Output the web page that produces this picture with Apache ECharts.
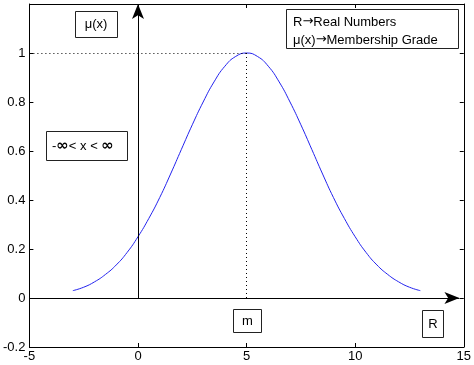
<!DOCTYPE html>
<html><head><meta charset="utf-8">
<script src="https://cdn.jsdelivr.net/npm/echarts@6/dist/echarts.min.js"></script>
<style>html,body{margin:0;padding:0;background:#fff}#c{width:474px;height:365px}</style>
</head><body><div id="c"></div>
<script>
// Membership curve
const xValues = [-3,-2.5,-2,-1.5,-1,-0.5,0,0.5,1,1.5,2,2.5,3,3.5,4,4.5,5,5.5,6,6.5,7,7.5,8,8.5,9,9.5,10,10.5,11,11.5,12,12.5,13];
const muValues = [0.03,0.044,0.066,0.096,0.135,0.186,0.25,0.325,0.41,0.506,0.607,0.707,0.80,0.882,0.946,0.986,1.0,0.986,0.946,0.882,0.80,0.707,0.607,0.506,0.41,0.325,0.25,0.186,0.135,0.096,0.066,0.044,0.03];
const xTicks = [-5,0,5,10,15];
const yTicks = [-0.2,0,0.2,0.4,0.6,0.8,1];
const centerM = 5;
const peak = 1;
const axisArrowEnd = 14.8;
const yTop = 1.2;

const font = '"Liberation Sans", Arial, sans-serif';
const chart = echarts.init(document.getElementById('c'));
const tickStyle = {show:true, inside:true, length:4, lineStyle:{color:'#000'}};
const lineStyle = {show:true, onZero:false, lineStyle:{color:'#000', width:1}};

function fmtY(v){
  const r = Math.round(v*10)/10;
  if (Math.abs(r - yTop) < 1e-6) return '';
  return String(r);
}
const arrowRich = {a:{fontFamily:'"DejaVu Sans", sans-serif', fontSize:13, fill:'#000'}};
const infRich = {i:{fontFamily:'"DejaVu Sans", sans-serif', fontSize:15, fontWeight:'bold'}};

chart.setOption({
  animation:false,
  grid:{left:27, right:7, top:4, bottom:18, containLabel:false},
  xAxis:[
    {type:'value', min:xTicks[0], max:xTicks[xTicks.length-1], interval:5, position:'bottom',
     axisLine:lineStyle, axisTick:tickStyle, splitLine:{show:false},
     axisLabel:{color:'#000', fontSize:13, fontFamily:font, margin:3}},
    {type:'value', min:xTicks[0], max:xTicks[xTicks.length-1], interval:5, position:'top',
     axisLine:lineStyle, axisTick:tickStyle, splitLine:{show:false}, axisLabel:{show:false}}
  ],
  yAxis:[
    {type:'value', min:-0.2, max:yTop, interval:0.2, position:'left',
     axisLine:lineStyle, axisTick:tickStyle, splitLine:{show:false},
     axisLabel:{color:'#000', fontSize:13, fontFamily:font, margin:4, formatter:fmtY}},
    {type:'value', min:-0.2, max:yTop, interval:0.2, position:'right',
     axisLine:lineStyle, axisTick:tickStyle, splitLine:{show:false}, axisLabel:{show:false}}
  ],
  series:[
    {type:'line', xAxisIndex:0, yAxisIndex:0, smooth:true, showSymbol:false,
     data: xValues.map((x,i)=>[x, muValues[i]]),
     lineStyle:{color:'#2222ee', width:1},
     markLine:{
       silent:true, animation:false,
       label:{show:false},
       data:[
         [{coord:[xTicks[0],0], symbol:'none'},{coord:[axisArrowEnd,0], symbol:'arrow', symbolSize:[9,15]}],
         [{coord:[0,0], symbol:'none'},{coord:[0,yTop], symbol:'arrow', symbolSize:[9,15]}]
       ],
       lineStyle:{color:'#000', type:'solid', width:1}
     },
     z:3},
    {type:'line', xAxisIndex:0, yAxisIndex:0, showSymbol:false, data:[],
     markLine:{
       silent:true, animation:false, symbol:'none',
       label:{show:false},
       lineStyle:{color:'#000', type:[1,3], width:1},
       data:[
         [{coord:[xTicks[0],peak]},{coord:[centerM,peak]}],
         [{coord:[centerM,peak]},{coord:[centerM,0]}]
       ]
     }}
  ],
  graphic:[
    {type:'rect', shape:{x:75.5,y:11.5,width:42,height:26}, style:{fill:'#fff', stroke:'#222', lineWidth:1}, z:10},
    {type:'text', x:96, y:24.5, style:{text:'μ(x)', font:'13px '+font, fill:'#000', align:'center', verticalAlign:'middle'}, z:11},
    {type:'rect', shape:{x:46.5,y:131.5,width:81,height:29}, style:{fill:'#fff', stroke:'#222', lineWidth:1}, z:10},
    {type:'text', x:52, y:146, style:{text:'-{i|∞}< x < {i|∞}', rich:infRich, font:'13px '+font, fill:'#000', align:'left', verticalAlign:'middle'}, z:11},
    {type:'rect', shape:{x:233.5,y:309.5,width:28,height:23}, style:{fill:'#fff', stroke:'#222', lineWidth:1}, z:10},
    {type:'text', x:247.5, y:321, style:{text:'m', font:'13px '+font, fill:'#000', align:'center', verticalAlign:'middle'}, z:11},
    {type:'rect', shape:{x:422.5,y:310.5,width:21,height:27}, style:{fill:'#fff', stroke:'#222', lineWidth:1}, z:10},
    {type:'text', x:433, y:324, style:{text:'R', font:'13px '+font, fill:'#000', align:'center', verticalAlign:'middle'}, z:11},
    {type:'rect', shape:{x:286.5,y:9.5,width:172,height:39}, style:{fill:'#fff', stroke:'#222', lineWidth:1}, z:10},
    {type:'text', x:293, y:22, style:{text:'R{a|→}Real Numbers', rich:arrowRich, font:'13px '+font, fill:'#000', align:'left', verticalAlign:'middle'}, z:11},
    {type:'text', x:293, y:40, style:{text:'μ(x){a|→}Membership Grade', rich:arrowRich, font:'13px '+font, fill:'#000', align:'left', verticalAlign:'middle'}, z:11}
  ]
});
</script></body></html>
